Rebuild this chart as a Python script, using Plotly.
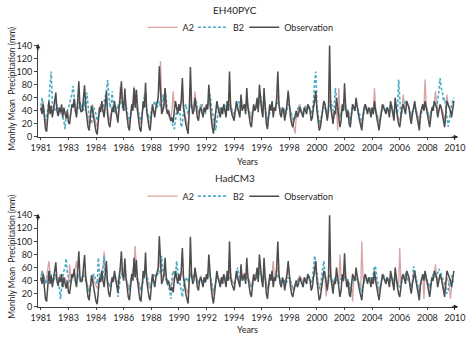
import plotly.graph_objects as go

W, H = 474, 338

tick_labels = ["1981", "1983", "1984", "1986", "1988", "1990", "1992", "1994",
               "1996", "1998", "2000", "2002", "2004", "2006", "2008", "2010"]
y_ticks = [0, 20, 40, 60, 80, 100, 120, 140]
panel_titles = ["EH40PYC", "HadCM3"]
series_names = ["A2", "B2", "Observation"]

# Monthly values, one row per year (1981 ...)
obs_rows = [
    [45, 35, 50, 30, 12, 8, 40, 55, 35, 48, 30, 42],
    [55, 68, 40, 32, 45, 38, 50, 30, 45, 35, 28, 40],
    [22, 20, 35, 50, 45, 58, 40, 30, 55, 85, 45, 38],
    [40, 55, 79, 45, 30, 15, 10, 35, 48, 40, 25, 18],
    [8, 4, 25, 45, 38, 55, 40, 30, 50, 70, 35, 20],
    [15, 30, 45, 38, 55, 42, 30, 22, 45, 60, 85, 50],
    [40, 74, 45, 25, 15, 10, 30, 50, 40, 75, 45, 72],
    [40, 25, 12, 8, 30, 55, 45, 83, 40, 25, 15, 10],
    [35, 50, 40, 30, 45, 55, 60, 108, 55, 35, 40, 50],
    [75, 45, 35, 40, 30, 25, 30, 22, 40, 55, 45, 35],
    [50, 40, 55, 90, 45, 30, 20, 12, 5, 40, 107, 50],
    [35, 40, 60, 45, 30, 25, 40, 45, 35, 30, 45, 38],
    [50, 42, 80, 45, 30, 15, 5, 20, 40, 55, 45, 35],
    [30, 45, 35, 50, 40, 30, 55, 40, 100, 45, 35, 30],
    [25, 40, 55, 45, 35, 30, 65, 40, 45, 50, 35, 75],
    [45, 30, 20, 15, 35, 50, 40, 45, 60, 38, 80, 55],
    [40, 30, 75, 45, 20, 12, 35, 50, 40, 55, 30, 45],
    [40, 60, 100, 50, 35, 30, 45, 40, 25, 35, 50, 70],
    [45, 30, 20, 15, 25, 35, 40, 30, 35, 45, 40, 35],
    [30, 45, 40, 35, 50, 45, 40, 25, 30, 45, 55, 70],
    [40, 25, 10, 15, 30, 40, 55, 50, 35, 25, 40, 140],
    [45, 30, 20, 40, 35, 60, 45, 30, 15, 25, 50, 40],
    [82, 45, 30, 40, 20, 15, 35, 50, 45, 40, 60, 45],
    [35, 25, 15, 10, 30, 45, 50, 40, 35, 45, 40, 30],
    [45, 35, 55, 40, 30, 20, 10, 25, 40, 50, 45, 38],
    [35, 45, 40, 30, 55, 45, 35, 25, 60, 40, 30, 20],
    [15, 30, 45, 50, 40, 35, 55, 50, 45, 30, 20, 35],
    [45, 55, 40, 30, 25, 10, 35, 45, 50, 40, 55, 45],
    [35, 25, 15, 30, 45, 40, 55, 50, 45, 30, 40, 50],
    [45, 35, 25, 15, 35, 55, 50, 45, 40, 30, 45, 55],
]

a2_eh_rows = [
    [50, 40, 55, 35, 20, 18, 35, 50, 40, 45, 35, 40],
    [50, 55, 45, 38, 40, 35, 45, 38, 42, 35, 30, 38],
    [30, 28, 40, 48, 50, 60, 45, 38, 50, 58, 45, 40],
    [42, 50, 55, 45, 35, 25, 20, 35, 45, 50, 35, 25],
    [20, 15, 30, 45, 50, 45, 40, 35, 48, 60, 40, 30],
    [25, 35, 45, 40, 50, 45, 38, 30, 45, 77, 60, 50],
    [45, 60, 45, 30, 25, 20, 35, 48, 55, 78, 50, 72],
    [45, 35, 25, 20, 35, 50, 45, 65, 45, 30, 25, 20],
    [35, 45, 40, 35, 45, 50, 60, 80, 116, 50, 40, 45],
    [60, 45, 40, 42, 35, 30, 40, 70, 45, 50, 45, 40],
    [50, 45, 55, 65, 45, 35, 28, 20, 15, 40, 65, 50],
    [45, 48, 70, 50, 40, 35, 45, 50, 40, 35, 45, 40],
    [48, 45, 60, 45, 35, 25, 15, 28, 40, 50, 45, 40],
    [35, 45, 40, 50, 45, 35, 50, 45, 70, 50, 40, 35],
    [30, 40, 50, 45, 40, 35, 55, 45, 48, 50, 40, 60],
    [50, 40, 30, 25, 40, 48, 45, 50, 55, 45, 62, 50],
    [45, 40, 60, 45, 30, 20, 35, 48, 45, 50, 40, 45],
    [45, 55, 65, 50, 40, 35, 45, 42, 35, 40, 50, 72],
    [50, 40, 30, 20, 10, 5, 30, 40, 45, 50, 42, 38],
    [35, 45, 48, 40, 50, 45, 45, 35, 38, 45, 50, 60],
    [45, 35, 20, 18, 35, 45, 55, 50, 40, 35, 45, 65],
    [50, 35, 25, 30, 40, 45, 10, 75, 35, 30, 45, 42],
    [60, 48, 35, 40, 28, 22, 38, 50, 45, 42, 55, 45],
    [40, 30, 22, 18, 35, 45, 50, 45, 40, 45, 42, 35],
    [45, 40, 75, 45, 35, 28, 20, 30, 42, 50, 45, 40],
    [38, 45, 42, 35, 50, 45, 40, 35, 55, 42, 35, 28],
    [25, 35, 45, 65, 45, 40, 50, 48, 45, 38, 30, 38],
    [45, 50, 45, 35, 30, 20, 38, 45, 50, 45, 88, 50],
    [40, 35, 25, 35, 45, 42, 50, 70, 48, 38, 42, 48],
    [45, 40, 35, 25, 38, 65, 50, 45, 42, 35, 45, 50],
]

b2_eh_rows = [
    [40, 60, 45, 35, 25, 30, 45, 55, 80, 100, 50, 45],
    [40, 45, 50, 40, 35, 38, 42, 30, 25, 12, 35, 40],
    [45, 50, 60, 65, 78, 50, 40, 35, 45, 50, 55, 45],
    [50, 40, 55, 45, 68, 40, 30, 25, 20, 35, 45, 40],
    [35, 25, 30, 40, 45, 50, 45, 55, 60, 70, 87, 60],
    [45, 50, 70, 45, 40, 35, 42, 50, 45, 55, 50, 45],
    [40, 45, 50, 38, 30, 25, 35, 45, 50, 55, 45, 48],
    [42, 38, 30, 25, 35, 45, 65, 50, 40, 35, 30, 28],
    [40, 45, 50, 55, 48, 45, 50, 55, 45, 50, 65, 55],
    [72, 50, 40, 35, 30, 25, 20, 15, 12, 25, 40, 45],
    [50, 35, 15, 20, 40, 45, 50, 40, 35, 42, 50, 45],
    [40, 45, 50, 55, 45, 40, 38, 45, 50, 42, 40, 35],
    [45, 48, 60, 65, 50, 40, 30, 20, 10, 25, 38, 45],
    [40, 45, 42, 50, 48, 40, 45, 40, 50, 45, 40, 38],
    [35, 42, 45, 50, 55, 45, 60, 48, 45, 42, 40, 50],
    [45, 40, 35, 30, 38, 45, 48, 42, 45, 50, 55, 65],
    [50, 45, 55, 48, 35, 25, 30, 40, 45, 50, 42, 40],
    [45, 50, 55, 48, 40, 35, 40, 45, 38, 35, 42, 50],
    [45, 40, 35, 28, 25, 30, 38, 42, 45, 48, 40, 35],
    [38, 42, 45, 40, 45, 48, 42, 35, 40, 55, 85, 100],
    [50, 35, 20, 25, 35, 40, 45, 42, 38, 35, 45, 50],
    [55, 48, 40, 45, 75, 60, 45, 35, 30, 35, 42, 40],
    [48, 45, 40, 42, 35, 25, 35, 45, 42, 40, 48, 45],
    [40, 35, 25, 20, 30, 42, 48, 45, 40, 42, 45, 38],
    [45, 42, 48, 40, 35, 30, 25, 30, 38, 45, 48, 42],
    [40, 45, 42, 38, 50, 48, 40, 35, 45, 40, 35, 88],
    [60, 30, 40, 45, 50, 55, 50, 45, 45, 35, 30, 38],
    [42, 45, 40, 35, 25, 15, 30, 40, 45, 42, 48, 45],
    [40, 35, 30, 38, 45, 48, 52, 50, 45, 55, 70, 90],
    [75, 70, 55, 60, 45, 30, 16, 25, 40, 50, 55, 60],
]

a2_had_rows = [
    [45, 55, 50, 40, 35, 45, 60, 70, 50, 40, 35, 45],
    [50, 45, 40, 35, 45, 50, 40, 30, 35, 45, 40, 38],
    [35, 65, 45, 40, 50, 55, 60, 70, 50, 45, 40, 42],
    [45, 50, 55, 45, 35, 30, 25, 35, 45, 50, 40, 35],
    [30, 28, 35, 45, 50, 55, 60, 85, 55, 45, 40, 35],
    [30, 40, 45, 42, 50, 45, 40, 35, 45, 55, 60, 50],
    [45, 50, 45, 35, 30, 25, 40, 50, 55, 65, 93, 55],
    [45, 40, 30, 25, 35, 45, 50, 55, 45, 38, 30, 28],
    [38, 45, 50, 48, 45, 50, 55, 65, 75, 50, 45, 48],
    [55, 45, 40, 38, 35, 30, 35, 45, 40, 50, 45, 40],
    [45, 42, 50, 55, 45, 35, 30, 25, 20, 40, 55, 50],
    [45, 48, 55, 50, 40, 35, 42, 48, 40, 38, 45, 40],
    [45, 50, 60, 50, 35, 25, 18, 28, 40, 48, 45, 40],
    [38, 45, 42, 50, 45, 40, 48, 45, 60, 50, 42, 38],
    [35, 40, 48, 45, 42, 38, 55, 45, 48, 52, 45, 55],
    [48, 42, 35, 30, 40, 48, 45, 50, 55, 45, 60, 50],
    [45, 40, 55, 48, 35, 25, 38, 45, 48, 50, 70, 45],
    [42, 50, 60, 48, 40, 35, 42, 40, 35, 42, 50, 60],
    [48, 40, 32, 25, 30, 35, 40, 38, 42, 48, 45, 40],
    [38, 42, 45, 40, 48, 45, 42, 38, 40, 45, 50, 55],
    [45, 38, 30, 25, 35, 42, 48, 45, 16, 30, 45, 70],
    [50, 40, 30, 35, 45, 50, 40, 35, 80, 45, 40, 38],
    [55, 45, 38, 40, 30, 20, 35, 8, 45, 42, 50, 45],
    [40, 35, 25, 100, 45, 35, 50, 45, 40, 45, 42, 38],
    [45, 42, 50, 45, 35, 28, 22, 30, 40, 48, 45, 40],
    [38, 45, 42, 35, 48, 45, 40, 35, 50, 42, 35, 30],
    [90, 35, 42, 48, 45, 40, 50, 45, 42, 38, 30, 38],
    [45, 48, 42, 35, 28, 20, 35, 42, 48, 12, 50, 45],
    [40, 35, 28, 35, 42, 45, 50, 65, 48, 40, 42, 45],
    [42, 38, 30, 25, 35, 45, 40, 35, 12, 30, 45, 50],
]

b2_had_rows = [
    [40, 55, 50, 45, 35, 40, 45, 50, 55, 45, 40, 38],
    [45, 50, 40, 35, 30, 12, 35, 45, 55, 60, 74, 50],
    [45, 40, 35, 45, 50, 45, 40, 35, 50, 45, 40, 42],
    [45, 50, 45, 40, 35, 28, 22, 30, 40, 45, 50, 45],
    [40, 35, 75, 50, 45, 40, 45, 78, 50, 45, 38, 35],
    [30, 35, 40, 45, 50, 45, 40, 15, 30, 45, 50, 48],
    [45, 48, 42, 35, 30, 25, 38, 45, 50, 55, 48, 45],
    [42, 38, 30, 25, 32, 40, 45, 55, 48, 40, 35, 30],
    [38, 42, 48, 50, 45, 48, 52, 55, 50, 78, 55, 50],
    [45, 40, 35, 30, 25, 12, 45, 55, 50, 45, 70, 50],
    [40, 35, 25, 15, 30, 40, 45, 42, 38, 45, 50, 45],
    [42, 45, 50, 48, 40, 35, 40, 45, 42, 38, 40, 38],
    [42, 45, 55, 50, 40, 30, 25, 30, 38, 45, 42, 40],
    [38, 42, 45, 48, 45, 40, 42, 40, 45, 42, 38, 35],
    [35, 40, 45, 60, 50, 42, 48, 45, 42, 45, 40, 45],
    [42, 38, 35, 30, 35, 42, 45, 42, 48, 50, 55, 50],
    [45, 42, 48, 45, 35, 28, 32, 40, 45, 48, 42, 40],
    [42, 45, 50, 45, 40, 35, 40, 42, 38, 35, 40, 45],
    [42, 38, 35, 28, 25, 30, 35, 40, 42, 45, 40, 38],
    [35, 40, 42, 40, 45, 48, 42, 38, 40, 55, 78, 65],
    [45, 35, 28, 30, 45, 55, 70, 50, 40, 38, 45, 50],
    [45, 42, 38, 40, 45, 42, 38, 35, 40, 42, 45, 42],
    [48, 45, 40, 42, 35, 28, 35, 42, 40, 38, 45, 42],
    [38, 35, 28, 22, 30, 40, 45, 42, 38, 42, 45, 40],
    [45, 50, 62, 60, 45, 35, 28, 32, 40, 45, 48, 42],
    [40, 45, 42, 38, 45, 48, 42, 38, 42, 40, 35, 32],
    [30, 35, 42, 45, 48, 50, 45, 42, 40, 35, 30, 38],
    [62, 55, 45, 38, 30, 22, 35, 42, 45, 42, 45, 42],
    [38, 35, 30, 38, 45, 50, 48, 45, 50, 52, 58, 55],
    [50, 45, 40, 35, 30, 20, 25, 38, 45, 48, 40, 38],
]


def flat(rows):
    return [v for r in rows for v in r]


obs = flat(obs_rows)
a2_eh = flat(a2_eh_rows)
b2_eh = flat(b2_eh_rows)
a2_had = flat(a2_had_rows)
b2_had = flat(b2_had_rows)
months = list(range(len(obs)))
tick_pos = list(range(0, len(obs) + 1, 24))


def px_y(p):
    return 1 - p / H


FONT = "Lato"
TXT = "#262626"
A2_COL = "#D9A3A3"
B2_COL = "#4BACC6"
OBS_COL = "#4D4D4D"

fig = go.Figure()

# one legend per entry so each can be placed where the reference has it
legend_x = [140, 192, 245]
legend_rows = [23, 197]


def legend_key(p, i):
    return "legend" if (p == 0 and i == 0) else "legend%d" % (i + 1 + 3 * p)


panels = [
    (a2_eh, b2_eh, "x", "y", 0),
    (a2_had, b2_had, "x2", "y2", 1),
]
for a2, b2, xa, ya, p in panels:
    fig.add_trace(go.Scatter(x=months, y=a2, name=series_names[0], mode="lines",
                             line=dict(color=A2_COL, width=1.3),
                             xaxis=xa, yaxis=ya, legend=legend_key(p, 0)))
    fig.add_trace(go.Scatter(x=months, y=b2, name=series_names[1], mode="lines",
                             line=dict(color=B2_COL, width=1.6, dash="3px,2px"),
                             xaxis=xa, yaxis=ya, legend=legend_key(p, 1)))
    fig.add_trace(go.Scatter(x=months, y=obs, name=series_names[2], mode="lines",
                             line=dict(color=OBS_COL, width=1.5),
                             xaxis=xa, yaxis=ya, legend=legend_key(p, 2)))

x_dom = [32 / W, 465 / W]
top_dom = [px_y(136), px_y(41)]
bot_dom = [px_y(311), px_y(216)]

xcommon = dict(domain=x_dom, range=[-2.5, 362], tickvals=tick_pos, ticktext=tick_labels,
               showline=True, linecolor="#404040", linewidth=1, ticks="outside",
               ticklen=2, tickcolor="#404040", showgrid=False, zeroline=False,
               tickfont=dict(family=FONT, size=9, color=TXT))
ycommon = dict(range=[0, 141], tickvals=y_ticks, showline=True, linecolor="#404040",
               linewidth=1, ticks="outside", ticklen=3, tickcolor="#404040",
               showgrid=False, zeroline=False,
               tickfont=dict(family=FONT, size=9, color=TXT))

legend_common = dict(orientation="h", xanchor="left", yanchor="middle",
                      font=dict(family=FONT, size=9, color=TXT), itemwidth=30,
                      bgcolor="rgba(0,0,0,0)", borderwidth=0)

legends = {}
for p, ly in enumerate(legend_rows):
    for i, lx in enumerate(legend_x):
        legends[legend_key(p, i)] = dict(x=lx / W, y=px_y(ly), **legend_common)

annotations = []
for title, ty, ytitle_y, xtitle_y, ybase, ytop in [
    (panel_titles[0], 5, 86, 161, 136, 41),
    (panel_titles[1], 178, 259, 334, 311, 216),
]:
    annotations.append(dict(text=title, x=235 / W, y=px_y(ty), xref="paper", yref="paper",
                            showarrow=False, xanchor="center", yanchor="middle",
                            font=dict(family=FONT, size=10, color=TXT)))
    annotations.append(dict(text="Monhly Mean  Precipitation (mm)", x=5.5 / W, y=px_y(ytitle_y),
                            xref="paper", yref="paper", showarrow=False, textangle=-90,
                            xanchor="center", yanchor="middle",
                            font=dict(family=FONT, size=8.5, color=TXT)))
    annotations.append(dict(text="Years", x=248 / W, y=px_y(xtitle_y), xref="paper", yref="paper",
                            showarrow=False, xanchor="center", yanchor="middle",
                            font=dict(family=FONT, size=9, color=TXT)))
    # axis arrowheads
    annotations.append(dict(text="", x=466 / W, y=px_y(ybase), xref="paper", yref="paper",
                            showarrow=True, ax=-8, ay=0, arrowhead=2, arrowsize=0.9,
                            arrowwidth=1, arrowcolor="#262626"))
    annotations.append(dict(text="", x=32 / W, y=px_y(ytop - 1), xref="paper", yref="paper",
                            showarrow=True, ax=0, ay=8, arrowhead=2, arrowsize=0.9,
                            arrowwidth=1, arrowcolor="#262626"))

fig.update_layout(
    width=W, height=H, margin=dict(l=0, r=0, t=0, b=0),
    paper_bgcolor="white", plot_bgcolor="white",
    xaxis=dict(anchor="y", **xcommon),
    yaxis=dict(anchor="x", domain=top_dom, **ycommon),
    xaxis2=dict(anchor="y2", **xcommon),
    yaxis2=dict(anchor="x2", domain=bot_dom, **ycommon),
    annotations=annotations,
    showlegend=True,
    **legends,
)

fig.write_html("out.html")
